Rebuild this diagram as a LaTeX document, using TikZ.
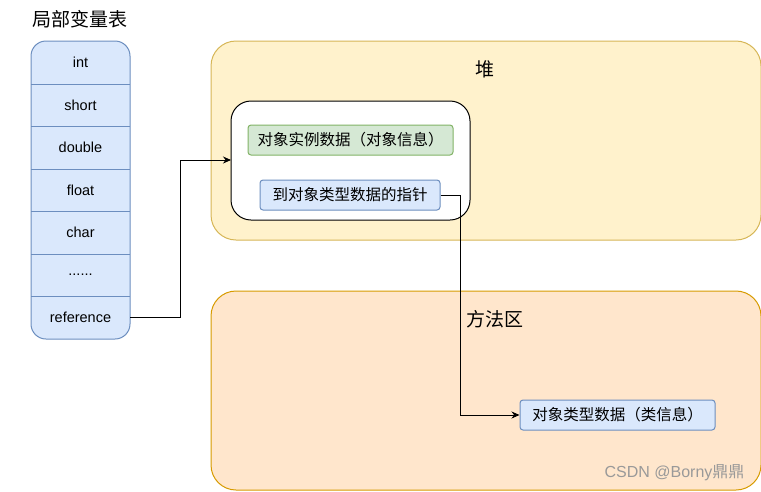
\documentclass[tikz,border=0pt]{standalone}
\usepackage{fontspec}
\setmainfont{Liberation Sans}
\newfontfamily\cjk{Noto Sans CJK SC}
\usetikzlibrary{arrows.meta}
\definecolor{bluefill}{HTML}{DAE8FC}
\definecolor{blueline}{HTML}{6C8EBF}
\definecolor{yellowfill}{HTML}{FFF2CC}
\definecolor{yellowline}{HTML}{D6B656}
\definecolor{orangefill}{HTML}{FFE6CC}
\definecolor{orangeline}{HTML}{D79B00}
\definecolor{greenfill}{HTML}{D5E8D4}
\definecolor{greenline}{HTML}{82B366}
\tikzset{
  cell/.style={minimum width=99pt, minimum height=42.7pt, inner sep=0pt, font=\fontsize{14.5}{16}\selectfont},
  region/.style={line width=1pt, rounded corners=25pt},
  itembox/.style={draw, line width=1pt, rounded corners=3pt, inner sep=0pt, minimum height=30pt, font=\cjk\fontsize{15.5}{17}\selectfont},
  conn/.style={line width=0.9pt, -{Stealth[length=8pt,width=7pt]}},
}
\begin{document}
\begin{tikzpicture}[x=1pt,y=-1pt]
\useasboundingbox (0,0) rectangle (761,491);
% title
\node[font=\cjk\fontsize{19}{21}\selectfont] (title) at (80,19) {局部变量表};
% list background with rounded corners
\draw[draw=blueline, fill=bluefill, line width=1pt, rounded corners=15pt] (31,41) rectangle (130,339);
\node[cell] (c1) at (80.5,62.5) {int};
\node[cell] (c2) at (80.5,105) {short};
\node[cell] (c3) at (80.5,147.5) {double};
\node[cell] (c4) at (80.5,190) {float};
\node[cell] (c5) at (80.5,232.5) {char};
\node[cell] (c6) at (80.5,275) {......};
\node[cell] (c7) at (80.5,317.5) {reference};
\foreach \yy in {84,126,169,211,254,296} {\draw[blueline, line width=1pt] (31,\yy) -- (130,\yy);}
% heap
\draw[region, draw=yellowline, fill=yellowfill] (211,41) rectangle (761,240);
\node[font=\cjk\fontsize{19}{21}\selectfont] (heaplbl) at (485,69) {堆};
\draw[line width=1pt, rounded corners=20pt, fill=white] (231,101) rectangle (470,220);
\coordinate (inner) at (231,160);
\node[itembox, draw=greenline, fill=greenfill, minimum width=205pt] (obj) at (350.5,140) {对象实例数据（对象信息）};
\node[itembox, draw=blueline, fill=bluefill, minimum width=180pt] (ptr) at (350,195) {到对象类型数据的指针};
% method area
\draw[region, draw=orangeline, fill=orangefill] (211,291) rectangle (761,490);
\node[font=\cjk\fontsize{19}{21}\selectfont] (malbl) at (495,319) {方法区};
\node[itembox, draw=blueline, fill=bluefill, minimum width=195pt] (cls) at (617.5,415) {对象类型数据（类信息）};
% connectors
\draw[conn] (c7.east) -| (180,160) -- (inner);
\draw[conn] (ptr.east) -| (460,415) -- (cls.west);
% watermark
\node[font=\fontsize{16}{18}\selectfont, text=black!40, anchor=east] (wm) at (748,473) {CSDN @Borny{\cjk 鼎鼎}};
\end{tikzpicture}
\end{document}
